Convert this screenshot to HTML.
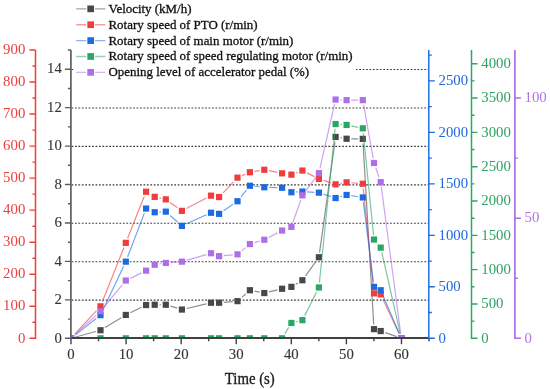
<!DOCTYPE html><html><head><meta charset="utf-8"><title>chart</title><style>html,body{margin:0;padding:0;background:#fff;}svg{display:block;}text{font-family:'Liberation Serif', 'Times New Roman', serif;}</style></head><body>
<svg width="550" height="389" viewBox="0 0 550 389">
<rect width="550" height="389" fill="#fff"/>
<defs><clipPath id="pc"><rect x="71" y="40" width="358" height="298.3"/></clipPath></defs>
<g stroke="#3a3a3a" stroke-width="1.1" stroke-dasharray="1.75 1.675" stroke-dashoffset="-0.55"><line x1="71" y1="300.16" x2="429" y2="300.16"/><line x1="71" y1="261.72" x2="429" y2="261.72"/><line x1="71" y1="223.28" x2="429" y2="223.28"/><line x1="71" y1="184.84" x2="429" y2="184.84"/><line x1="71" y1="146.40" x2="429" y2="146.40"/><line x1="71" y1="107.96" x2="429" y2="107.96"/><line x1="71" y1="69.52" x2="429" y2="69.52"/></g>
<g clip-path="url(#pc)">
<path d="M75.64 337.03L95.86 331.52M104.97 327.55L121.33 317.65M130.34 312.74L141.56 307.26M159.40 304.75L161.10 304.75M170.43 306.13L177.27 308.17M186.56 308.46L206.34 303.84M223.79 302.34L232.81 301.56M241.80 297.37L245.60 294.03M254.57 291.16L259.63 292.14M268.96 291.93L277.44 289.87M295.87 284.17L297.93 282.93M305.56 275.85L315.74 261.65M319.55 252.57L334.95 141.63M340.28 137.72L341.92 137.98M351.30 138.78L358.10 138.82M363.08 143.55L373.72 324.45M385.31 332.67L396.69 336.68" fill="none" stroke="#484848" stroke-width="1.2" stroke-opacity="0.62"/>
<g fill="#484848"><rect x="67.90" y="335.20" width="6.2" height="6.2"/><rect x="97.40" y="327.15" width="6.2" height="6.2"/><rect x="122.70" y="311.85" width="6.2" height="6.2"/><rect x="143.00" y="301.95" width="6.2" height="6.2"/><rect x="151.60" y="301.65" width="6.2" height="6.2"/><rect x="162.70" y="301.65" width="6.2" height="6.2"/><rect x="178.80" y="306.45" width="6.2" height="6.2"/><rect x="207.90" y="299.65" width="6.2" height="6.2"/><rect x="216.00" y="299.65" width="6.2" height="6.2"/><rect x="234.40" y="298.05" width="6.2" height="6.2"/><rect x="246.80" y="287.15" width="6.2" height="6.2"/><rect x="261.20" y="289.95" width="6.2" height="6.2"/><rect x="279.00" y="285.65" width="6.2" height="6.2"/><rect x="288.30" y="283.75" width="6.2" height="6.2"/><rect x="299.30" y="277.15" width="6.2" height="6.2"/><rect x="315.80" y="254.15" width="6.2" height="6.2"/><rect x="332.50" y="133.85" width="6.2" height="6.2"/><rect x="343.50" y="135.65" width="6.2" height="6.2"/><rect x="359.70" y="135.75" width="6.2" height="6.2"/><rect x="370.90" y="326.05" width="6.2" height="6.2"/><rect x="377.60" y="327.95" width="6.2" height="6.2"/><rect x="398.20" y="335.20" width="6.2" height="6.2"/></g>
<path d="M74.95 334.02L96.55 310.63M102.33 301.76L123.97 247.44M127.62 238.26L144.28 196.34M159.36 197.90L161.14 198.30M170.20 202.49L177.50 207.71M186.42 208.49L206.48 198.01M223.14 192.79L233.46 181.91M242.07 175.66L245.33 174.24M254.58 171.44L259.62 170.56M268.97 170.69L277.43 172.41M296.00 172.94L297.80 172.26M306.93 172.85L314.37 176.65M323.52 180.44L330.98 182.86M340.27 183.50L341.93 183.20M351.29 182.76L358.11 183.34M363.28 188.44L373.52 288.66M382.83 298.90L399.17 333.75" fill="none" stroke="#f03c3c" stroke-width="1.2" stroke-opacity="0.62"/>
<g fill="#f03c3c"><rect x="67.90" y="335.20" width="6.2" height="6.2"/><rect x="97.40" y="303.25" width="6.2" height="6.2"/><rect x="122.70" y="239.75" width="6.2" height="6.2"/><rect x="143.00" y="188.65" width="6.2" height="6.2"/><rect x="151.60" y="193.75" width="6.2" height="6.2"/><rect x="162.70" y="196.25" width="6.2" height="6.2"/><rect x="178.80" y="207.75" width="6.2" height="6.2"/><rect x="207.90" y="192.55" width="6.2" height="6.2"/><rect x="216.00" y="193.95" width="6.2" height="6.2"/><rect x="234.40" y="174.55" width="6.2" height="6.2"/><rect x="246.80" y="169.15" width="6.2" height="6.2"/><rect x="261.20" y="166.65" width="6.2" height="6.2"/><rect x="279.00" y="170.25" width="6.2" height="6.2"/><rect x="288.30" y="171.55" width="6.2" height="6.2"/><rect x="299.30" y="167.45" width="6.2" height="6.2"/><rect x="315.80" y="175.85" width="6.2" height="6.2"/><rect x="332.50" y="181.25" width="6.2" height="6.2"/><rect x="343.50" y="179.25" width="6.2" height="6.2"/><rect x="359.70" y="180.65" width="6.2" height="6.2"/><rect x="370.90" y="290.25" width="6.2" height="6.2"/><rect x="377.60" y="291.25" width="6.2" height="6.2"/><rect x="398.20" y="335.20" width="6.2" height="6.2"/></g>
<path d="M75.36 334.88L96.14 318.57M102.65 310.60L123.65 266.20M127.56 257.06L144.34 213.14M159.40 212.00L161.10 211.90M170.10 215.44L177.60 222.06M186.46 223.80L206.44 214.80M223.52 210.82L233.08 204.28M240.98 196.90L246.42 190.10M254.59 186.24L259.61 186.76M269.00 187.38L277.40 187.62M296.10 191.95L297.70 191.85M307.10 191.86L314.20 192.34M323.52 194.14L330.98 196.56M340.24 196.74L341.96 196.26M351.28 195.67L358.12 196.73M363.39 202.14L373.41 282.16M382.66 294.82L399.34 333.73" fill="none" stroke="#1c6ae2" stroke-width="1.2" stroke-opacity="0.62"/>
<g fill="#1c6ae2"><rect x="67.90" y="335.20" width="6.2" height="6.2"/><rect x="97.40" y="312.05" width="6.2" height="6.2"/><rect x="122.70" y="258.55" width="6.2" height="6.2"/><rect x="143.00" y="205.45" width="6.2" height="6.2"/><rect x="151.60" y="209.15" width="6.2" height="6.2"/><rect x="162.70" y="208.55" width="6.2" height="6.2"/><rect x="178.80" y="222.75" width="6.2" height="6.2"/><rect x="207.90" y="209.65" width="6.2" height="6.2"/><rect x="216.00" y="210.75" width="6.2" height="6.2"/><rect x="234.40" y="198.15" width="6.2" height="6.2"/><rect x="246.80" y="182.65" width="6.2" height="6.2"/><rect x="261.20" y="184.15" width="6.2" height="6.2"/><rect x="279.00" y="184.65" width="6.2" height="6.2"/><rect x="288.30" y="189.15" width="6.2" height="6.2"/><rect x="299.30" y="188.45" width="6.2" height="6.2"/><rect x="315.80" y="189.55" width="6.2" height="6.2"/><rect x="332.50" y="194.95" width="6.2" height="6.2"/><rect x="343.50" y="191.85" width="6.2" height="6.2"/><rect x="359.70" y="194.35" width="6.2" height="6.2"/><rect x="370.90" y="283.75" width="6.2" height="6.2"/><rect x="377.60" y="287.15" width="6.2" height="6.2"/><rect x="398.20" y="335.20" width="6.2" height="6.2"/></g>
<path d="M75.70 338.30L95.80 338.30M105.20 338.30L121.10 338.30M130.50 338.30L141.40 338.30M159.40 338.30L161.10 338.30M170.50 338.30L177.20 338.30M186.60 338.30L206.30 338.30M223.80 338.30L232.80 338.30M242.20 338.30L245.20 338.30M254.60 338.30L259.60 338.30M269.00 338.30L277.40 338.30M284.81 333.83L288.69 327.42M296.05 321.77L297.75 321.33M304.68 315.62L316.62 291.98M319.38 282.76L335.12 128.74M340.29 124.43L341.91 124.57M351.27 125.93L358.13 127.37M363.27 133.04L373.53 234.86M381.76 252.31L400.24 333.64" fill="none" stroke="#2ba764" stroke-width="1.2" stroke-opacity="0.62"/>
<g fill="#2ba764"><rect x="67.90" y="335.20" width="6.2" height="6.2"/><rect x="97.40" y="335.20" width="6.2" height="6.2"/><rect x="122.70" y="335.20" width="6.2" height="6.2"/><rect x="143.00" y="335.20" width="6.2" height="6.2"/><rect x="151.60" y="335.20" width="6.2" height="6.2"/><rect x="162.70" y="335.20" width="6.2" height="6.2"/><rect x="178.80" y="335.20" width="6.2" height="6.2"/><rect x="207.90" y="335.20" width="6.2" height="6.2"/><rect x="216.00" y="335.20" width="6.2" height="6.2"/><rect x="234.40" y="335.20" width="6.2" height="6.2"/><rect x="246.80" y="335.20" width="6.2" height="6.2"/><rect x="261.20" y="335.20" width="6.2" height="6.2"/><rect x="279.00" y="335.20" width="6.2" height="6.2"/><rect x="288.30" y="319.85" width="6.2" height="6.2"/><rect x="299.30" y="317.05" width="6.2" height="6.2"/><rect x="315.80" y="284.35" width="6.2" height="6.2"/><rect x="332.50" y="120.95" width="6.2" height="6.2"/><rect x="343.50" y="121.85" width="6.2" height="6.2"/><rect x="359.70" y="125.25" width="6.2" height="6.2"/><rect x="370.90" y="236.45" width="6.2" height="6.2"/><rect x="377.60" y="244.55" width="6.2" height="6.2"/><rect x="398.20" y="335.20" width="6.2" height="6.2"/></g>
<path d="M75.28 334.38L96.22 315.17M104.07 306.92L122.23 284.88M130.34 278.34L141.56 272.86M159.38 263.99L161.12 263.71M170.49 262.57L177.21 262.03M186.54 260.31L206.36 254.59M223.79 255.69L232.81 254.81M241.83 250.75L245.57 247.65M254.53 242.67L259.67 241.13M268.82 237.41L277.58 232.89M293.01 222.24L300.79 199.96M305.66 190.97L315.64 177.53M319.96 168.49L334.54 104.21M340.30 99.81L341.90 99.89M351.30 100.15L358.10 100.15M363.63 104.83L373.17 158.27M375.61 167.56L379.09 177.54M381.32 186.84L400.68 333.61" fill="none" stroke="#ad6ee6" stroke-width="1.2" stroke-opacity="0.62"/>
<g fill="#ad6ee6"><rect x="67.90" y="335.20" width="6.2" height="6.2"/><rect x="97.40" y="308.15" width="6.2" height="6.2"/><rect x="122.70" y="277.45" width="6.2" height="6.2"/><rect x="143.00" y="267.55" width="6.2" height="6.2"/><rect x="151.60" y="261.65" width="6.2" height="6.2"/><rect x="162.70" y="259.85" width="6.2" height="6.2"/><rect x="178.80" y="258.55" width="6.2" height="6.2"/><rect x="207.90" y="250.15" width="6.2" height="6.2"/><rect x="216.00" y="253.05" width="6.2" height="6.2"/><rect x="234.40" y="251.25" width="6.2" height="6.2"/><rect x="246.80" y="240.95" width="6.2" height="6.2"/><rect x="261.20" y="236.65" width="6.2" height="6.2"/><rect x="279.00" y="227.45" width="6.2" height="6.2"/><rect x="288.30" y="223.75" width="6.2" height="6.2"/><rect x="299.30" y="192.25" width="6.2" height="6.2"/><rect x="315.80" y="170.05" width="6.2" height="6.2"/><rect x="332.50" y="96.45" width="6.2" height="6.2"/><rect x="343.50" y="97.05" width="6.2" height="6.2"/><rect x="359.70" y="97.05" width="6.2" height="6.2"/><rect x="370.90" y="159.85" width="6.2" height="6.2"/><rect x="377.60" y="179.05" width="6.2" height="6.2"/><rect x="398.20" y="335.20" width="6.2" height="6.2"/></g>
</g>
<rect x="73" y="0" width="283" height="81" fill="#fff"/>
<path d="M76.2 8.85H86.3M95.0 8.85H105.3" stroke="#484848" stroke-width="1.4" stroke-opacity="0.5"/>
<rect x="87.35" y="5.50" width="6.7" height="6.7" fill="#484848"/>
<text transform="translate(108.50 12.85) scale(1 1.04)" font-size="12.93" fill="#111" stroke="#111" stroke-width="0.3">Velocity (kM/h)</text>
<path d="M76.2 24.73H86.3M95.0 24.73H105.3" stroke="#f03c3c" stroke-width="1.4" stroke-opacity="0.5"/>
<rect x="87.35" y="21.38" width="6.7" height="6.7" fill="#f03c3c"/>
<text transform="translate(108.50 28.73) scale(1 1.04)" font-size="12.93" fill="#111" stroke="#111" stroke-width="0.3">Rotary speed of PTO (r/min)</text>
<path d="M76.2 40.61H86.3M95.0 40.61H105.3" stroke="#1c6ae2" stroke-width="1.4" stroke-opacity="0.5"/>
<rect x="87.35" y="37.26" width="6.7" height="6.7" fill="#1c6ae2"/>
<text transform="translate(108.50 44.61) scale(1 1.04)" font-size="12.93" fill="#111" stroke="#111" stroke-width="0.3">Rotary speed of main motor (r/min)</text>
<path d="M76.2 56.49H86.3M95.0 56.49H105.3" stroke="#2ba764" stroke-width="1.4" stroke-opacity="0.5"/>
<rect x="87.35" y="53.14" width="6.7" height="6.7" fill="#2ba764"/>
<text transform="translate(108.50 60.49) scale(1 1.04)" font-size="12.93" fill="#111" stroke="#111" stroke-width="0.3">Rotary speed of speed regulating motor (r/min)</text>
<path d="M76.2 72.37H86.3M95.0 72.37H105.3" stroke="#ad6ee6" stroke-width="1.4" stroke-opacity="0.5"/>
<rect x="87.35" y="69.02" width="6.7" height="6.7" fill="#ad6ee6"/>
<text transform="translate(108.50 76.37) scale(1 1.04)" font-size="12.93" fill="#111" stroke="#111" stroke-width="0.3">Opening level of accelerator pedal (%)</text>
<path d="M70.90 337.95H428.8" stroke="#404040" stroke-width="1.9"/>
<path d="M71.00 338.3v6M98.54 338.3v3M126.08 338.3v6M153.62 338.3v3M181.15 338.3v6M208.69 338.3v3M236.23 338.3v6M263.77 338.3v3M291.31 338.3v6M318.85 338.3v3M346.38 338.3v6M373.92 338.3v3M401.46 338.3v6M429.00 338.3v3" stroke="#404040" stroke-width="1.4"/>
<text transform="translate(71.00 359.30) scale(1 1.048)" font-size="14.8" fill="#333333" stroke="#333333" stroke-width="0.12" text-anchor="middle">0</text>
<text transform="translate(126.08 359.30) scale(1 1.048)" font-size="14.8" fill="#333333" stroke="#333333" stroke-width="0.12" text-anchor="middle">10</text>
<text transform="translate(181.15 359.30) scale(1 1.048)" font-size="14.8" fill="#333333" stroke="#333333" stroke-width="0.12" text-anchor="middle">20</text>
<text transform="translate(236.23 359.30) scale(1 1.048)" font-size="14.8" fill="#333333" stroke="#333333" stroke-width="0.12" text-anchor="middle">30</text>
<text transform="translate(291.31 359.30) scale(1 1.048)" font-size="14.8" fill="#333333" stroke="#333333" stroke-width="0.12" text-anchor="middle">40</text>
<text transform="translate(346.38 359.30) scale(1 1.048)" font-size="14.8" fill="#333333" stroke="#333333" stroke-width="0.12" text-anchor="middle">50</text>
<text transform="translate(401.46 359.30) scale(1 1.048)" font-size="14.8" fill="#333333" stroke="#333333" stroke-width="0.12" text-anchor="middle">60</text>
<text transform="translate(249.80 383.70) scale(1 1.07)" font-size="14.8" fill="#1a1a1a" stroke="#1a1a1a" stroke-width="0.3" text-anchor="middle">Time (s)</text>
<path d="M70.9 50.0V339.2" stroke="#5e5e5e" stroke-width="1.7"/>
<path d="M70.90 338.30h-6M70.90 319.08h-3M70.90 299.86h-6M70.90 280.64h-3M70.90 261.42h-6M70.90 242.20h-3M70.90 222.98h-6M70.90 203.76h-3M70.90 184.54h-6M70.90 165.32h-3M70.90 146.10h-6M70.90 126.88h-3M70.90 107.66h-6M70.90 88.44h-3M70.90 69.22h-6M70.90 50.00h-3" stroke="#5e5e5e" stroke-width="1.4"/>
<text transform="translate(61.90 342.50) scale(1 1.048)" font-size="14.8" fill="#333333" stroke="#333333" stroke-width="0.08" text-anchor="end">0</text>
<text transform="translate(61.90 304.06) scale(1 1.048)" font-size="14.8" fill="#333333" stroke="#333333" stroke-width="0.08" text-anchor="end">2</text>
<text transform="translate(61.90 265.62) scale(1 1.048)" font-size="14.8" fill="#333333" stroke="#333333" stroke-width="0.08" text-anchor="end">4</text>
<text transform="translate(61.90 227.18) scale(1 1.048)" font-size="14.8" fill="#333333" stroke="#333333" stroke-width="0.08" text-anchor="end">6</text>
<text transform="translate(61.90 188.74) scale(1 1.048)" font-size="14.8" fill="#333333" stroke="#333333" stroke-width="0.08" text-anchor="end">8</text>
<text transform="translate(61.90 150.30) scale(1 1.048)" font-size="14.8" fill="#333333" stroke="#333333" stroke-width="0.08" text-anchor="end">10</text>
<text transform="translate(61.90 111.86) scale(1 1.048)" font-size="14.8" fill="#333333" stroke="#333333" stroke-width="0.08" text-anchor="end">12</text>
<text transform="translate(61.90 73.42) scale(1 1.048)" font-size="14.8" fill="#333333" stroke="#333333" stroke-width="0.08" text-anchor="end">14</text>
<path d="M35.5 50.0V339.0" stroke="#f03c3c" stroke-width="1.5"/>
<path d="M35.50 338.30h-6M35.50 322.28h-3M35.50 306.27h-6M35.50 290.25h-3M35.50 274.23h-6M35.50 258.22h-3M35.50 242.20h-6M35.50 226.18h-3M35.50 210.17h-6M35.50 194.15h-3M35.50 178.13h-6M35.50 162.12h-3M35.50 146.10h-6M35.50 130.08h-3M35.50 114.07h-6M35.50 98.05h-3M35.50 82.03h-6M35.50 66.02h-3M35.50 50.00h-6" stroke="#f03c3c" stroke-width="1.4"/>
<text transform="translate(25.30 342.50) scale(1 1.048)" font-size="14.8" fill="#ee3e3e" stroke="#ee3e3e" stroke-width="0.0" text-anchor="end">0</text>
<text transform="translate(25.30 310.47) scale(1 1.048)" font-size="14.8" fill="#ee3e3e" stroke="#ee3e3e" stroke-width="0.0" text-anchor="end">100</text>
<text transform="translate(25.30 278.43) scale(1 1.048)" font-size="14.8" fill="#ee3e3e" stroke="#ee3e3e" stroke-width="0.0" text-anchor="end">200</text>
<text transform="translate(25.30 246.40) scale(1 1.048)" font-size="14.8" fill="#ee3e3e" stroke="#ee3e3e" stroke-width="0.0" text-anchor="end">300</text>
<text transform="translate(25.30 214.37) scale(1 1.048)" font-size="14.8" fill="#ee3e3e" stroke="#ee3e3e" stroke-width="0.0" text-anchor="end">400</text>
<text transform="translate(25.30 182.33) scale(1 1.048)" font-size="14.8" fill="#ee3e3e" stroke="#ee3e3e" stroke-width="0.0" text-anchor="end">500</text>
<text transform="translate(25.30 150.30) scale(1 1.048)" font-size="14.8" fill="#ee3e3e" stroke="#ee3e3e" stroke-width="0.0" text-anchor="end">600</text>
<text transform="translate(25.30 118.27) scale(1 1.048)" font-size="14.8" fill="#ee3e3e" stroke="#ee3e3e" stroke-width="0.0" text-anchor="end">700</text>
<text transform="translate(25.30 86.23) scale(1 1.048)" font-size="14.8" fill="#ee3e3e" stroke="#ee3e3e" stroke-width="0.0" text-anchor="end">800</text>
<text transform="translate(25.30 54.20) scale(1 1.048)" font-size="14.8" fill="#ee3e3e" stroke="#ee3e3e" stroke-width="0.0" text-anchor="end">900</text>
<path d="M428.8 50.0V339.0" stroke="#1c6ae2" stroke-width="1.45"/>
<path d="M428.80 338.30h6M428.80 312.56h3M428.80 286.82h6M428.80 261.08h3M428.80 235.34h6M428.80 209.59h3M428.80 183.85h6M428.80 158.11h3M428.80 132.37h6M428.80 106.63h3M428.80 80.89h6M428.80 55.15h3" stroke="#1c6ae2" stroke-width="1.4"/>
<text transform="translate(438.50 342.50) scale(1 1.048)" font-size="14.8" fill="#2068de" stroke="#2068de" stroke-width="0.0">0</text>
<text transform="translate(438.50 291.02) scale(1 1.048)" font-size="14.8" fill="#2068de" stroke="#2068de" stroke-width="0.0">500</text>
<text transform="translate(438.50 239.54) scale(1 1.048)" font-size="14.8" fill="#2068de" stroke="#2068de" stroke-width="0.0">1000</text>
<text transform="translate(438.50 188.05) scale(1 1.048)" font-size="14.8" fill="#2068de" stroke="#2068de" stroke-width="0.0">1500</text>
<text transform="translate(438.50 136.57) scale(1 1.048)" font-size="14.8" fill="#2068de" stroke="#2068de" stroke-width="0.0">2000</text>
<text transform="translate(438.50 85.09) scale(1 1.048)" font-size="14.8" fill="#2068de" stroke="#2068de" stroke-width="0.0">2500</text>
<path d="M471.5 50.0V339.0" stroke="#2ba764" stroke-width="1.5"/>
<path d="M471.50 338.30h6M471.50 321.14h3M471.50 303.98h6M471.50 286.82h3M471.50 269.66h6M471.50 252.50h3M471.50 235.34h6M471.50 218.18h3M471.50 201.01h6M471.50 183.85h3M471.50 166.69h6M471.50 149.53h3M471.50 132.37h6M471.50 115.21h3M471.50 98.05h6M471.50 80.89h3M471.50 63.73h6" stroke="#2ba764" stroke-width="1.4"/>
<text transform="translate(481.30 342.50) scale(1 1.048)" font-size="14.8" fill="#2ea264" stroke="#2ea264" stroke-width="0.0">0</text>
<text transform="translate(481.30 308.18) scale(1 1.048)" font-size="14.8" fill="#2ea264" stroke="#2ea264" stroke-width="0.0">500</text>
<text transform="translate(481.30 273.86) scale(1 1.048)" font-size="14.8" fill="#2ea264" stroke="#2ea264" stroke-width="0.0">1000</text>
<text transform="translate(481.30 239.54) scale(1 1.048)" font-size="14.8" fill="#2ea264" stroke="#2ea264" stroke-width="0.0">1500</text>
<text transform="translate(481.30 205.21) scale(1 1.048)" font-size="14.8" fill="#2ea264" stroke="#2ea264" stroke-width="0.0">2000</text>
<text transform="translate(481.30 170.89) scale(1 1.048)" font-size="14.8" fill="#2ea264" stroke="#2ea264" stroke-width="0.0">2500</text>
<text transform="translate(481.30 136.57) scale(1 1.048)" font-size="14.8" fill="#2ea264" stroke="#2ea264" stroke-width="0.0">3000</text>
<text transform="translate(481.30 102.25) scale(1 1.048)" font-size="14.8" fill="#2ea264" stroke="#2ea264" stroke-width="0.0">3500</text>
<text transform="translate(481.30 67.93) scale(1 1.048)" font-size="14.8" fill="#2ea264" stroke="#2ea264" stroke-width="0.0">4000</text>
<path d="M514.9 50.0V339.0" stroke="#ad6ee6" stroke-width="1.7"/>
<path d="M514.90 338.30h6M514.90 278.24h3M514.90 218.18h6M514.90 158.11h3M514.90 98.05h6" stroke="#ad6ee6" stroke-width="1.4"/>
<text transform="translate(524.50 342.50) scale(1 1.048)" font-size="14.8" fill="#b474e4" stroke="#b474e4" stroke-width="0.0">0</text>
<text transform="translate(524.50 222.38) scale(1 1.048)" font-size="14.8" fill="#b474e4" stroke="#b474e4" stroke-width="0.0">50</text>
<text transform="translate(524.50 102.25) scale(1 1.048)" font-size="14.8" fill="#b474e4" stroke="#b474e4" stroke-width="0.0">100</text>
</svg></body></html>
